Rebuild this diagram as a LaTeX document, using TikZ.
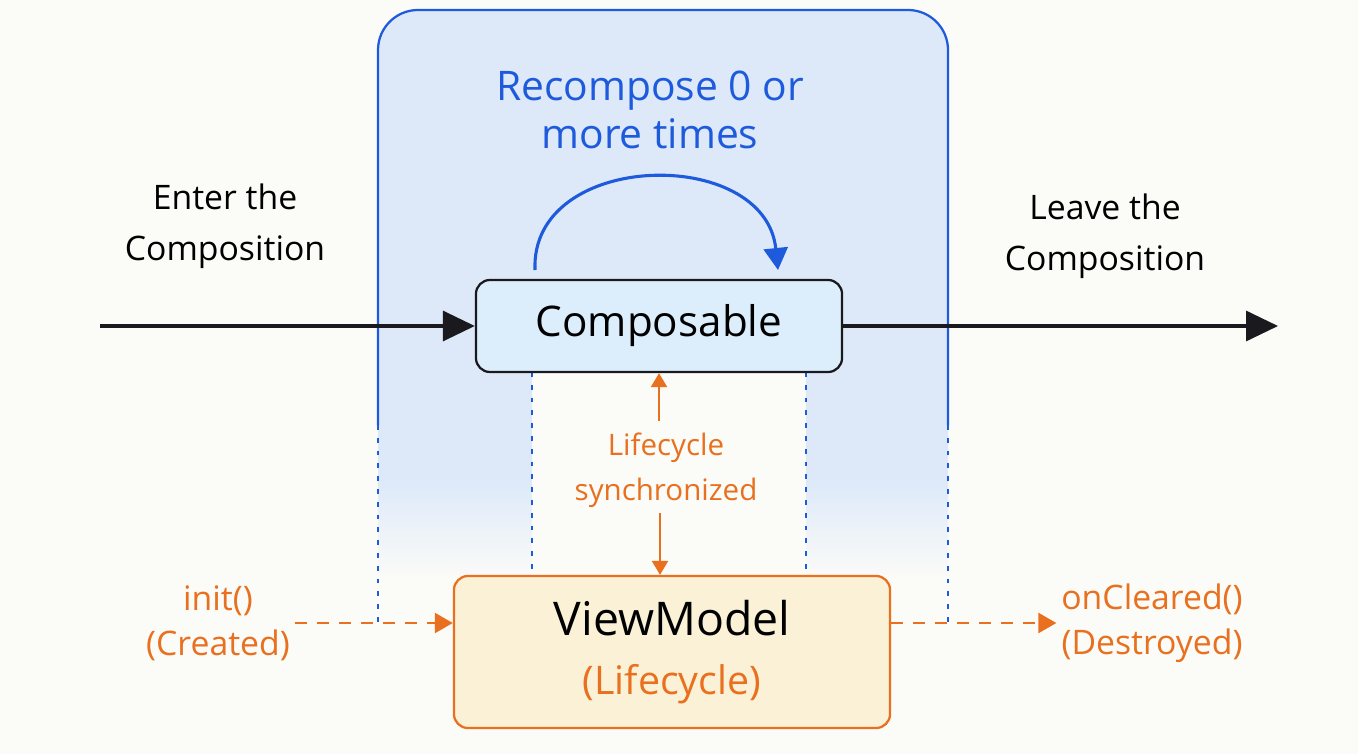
\documentclass[tikz,border=0pt]{standalone}
\usepackage{fontspec}
\setmainfont{Open Sans}
\usetikzlibrary{positioning,arrows.meta,calc}
\definecolor{PaperWhite}{RGB}{251,251,248}
\definecolor{RecompBlue}{RGB}{30,90,220}
\definecolor{RegionBlue}{RGB}{221,233,249}
\definecolor{CompFill}{RGB}{220,238,251}
\definecolor{VMOrange}{RGB}{232,112,30}
\definecolor{VMFill}{RGB}{250,241,214}
\definecolor{InkBlack}{RGB}{25,25,30}

\begin{document}
\begin{tikzpicture}[
    x=0.025cm, y=-0.025cm,
    box/.style={rectangle,draw,rounded corners=0.35cm,line width=1.6pt},
    compbox/.style={box,draw=InkBlack,fill=CompFill,minimum width=9.15cm,minimum height=2.3cm},
    vmbox/.style={box,draw=VMOrange,fill=VMFill,minimum width=10.9cm,minimum height=3.8cm,align=center},
    label/.style={align=center,font=\fontsize{24}{36}\selectfont},
    arrow/.style={-{Triangle[length=0.8cm,width=0.75cm]},line width=2.4pt,InkBlack},
    syncarrow/.style={-{Triangle[length=0.35cm,width=0.4cm]},line width=1.6pt,VMOrange},
    lifearrow/.style={-{Triangle[length=0.45cm,width=0.5cm]},line width=1.6pt,VMOrange,dash pattern=on 0.3cm off 0.25cm},
    edge/.style={RecompBlue,line width=1.6pt},
    guide/.style={RecompBlue,line width=1.4pt,dash pattern=on 0.12cm off 0.2cm}
]
\useasboundingbox (0,0) rectangle (1358,754);
\fill[PaperWhite] (0,0) rectangle (1358,754);

% recomposition region
\fill[RegionBlue] (378,480) [rounded corners=1cm] -- (378,10) -- (948,10) [sharp corners] -- (948,480) -- cycle;
\shade[top color=RegionBlue,bottom color=PaperWhite] (378,479) rectangle (948,578);
\fill[PaperWhite] (532,372) rectangle (806,576);
\draw[edge] (378,425) [rounded corners=1cm] -- (378,10) -- (948,10) [sharp corners] -- (948,425);
\draw[guide] (378,425) -- (378,622);
\draw[guide] (948,425) -- (948,622);
\draw[guide] (532,372) -- (532,576);
\draw[guide] (806,372) -- (806,576);

% boxes
\node[compbox] (comp) at (659,326) {\fontsize{30}{36}\selectfont Composable};
\node[vmbox,font=\fontsize{33}{36}\selectfont] (vm) at (672,652) {ViewModel\\[6pt]{\color{VMOrange}\fontsize{28}{36}\selectfont (Lifecycle)}};

% labels
\node[label] (enter) at (225,226) {Enter the\\Composition};
\node[label] (leave) at (1105,236) {Leave the\\Composition};
\node[label,RecompBlue,font=\fontsize{29}{34}\selectfont] (recomp) at (650,110) {Recompose 0 or\\more times};
\node[label,VMOrange,font=\fontsize{21}{32}\selectfont,inner sep=1pt] (sync) at (666,470) {Lifecycle\\synchronized};
\node[label,VMOrange,font=\fontsize{24}{32}\selectfont] (init) at (218,623) {init()\\(Created)};
\node[label,VMOrange,font=\fontsize{24}{32}\selectfont] (cleared) at (1152,623) {onCleared()\\(Destroyed)};

% composition flow
\coordinate (enterstart) at (100,326);
\coordinate (leaveend) at (1278,326);
\draw[arrow] (enterstart) -- (comp.west);
\draw[arrow] (comp.east) -- (leaveend);

% recompose loop
\coordinate (loopA) at (535,270);
\coordinate (loopB) at (778,270);
\draw[edge,line width=2.2pt,-{Triangle[length=0.55cm,width=0.6cm]}] (loopA) .. controls (530,150) and (765,145) .. (loopB);

% lifecycle
\draw[syncarrow,shorten <=0.25cm] (sync.north -| comp.south) -- (comp.south);
\draw[syncarrow,shorten <=0.1cm] (sync.south -| vm.north) ++(-12,0) coordinate (syncdown) -- (syncdown |- vm.north);
\draw[lifearrow] (init.east) -- (init.east -| vm.west);
\draw[lifearrow] (cleared.west -| vm.east) -- (cleared.west);
\end{tikzpicture}
\end{document}
